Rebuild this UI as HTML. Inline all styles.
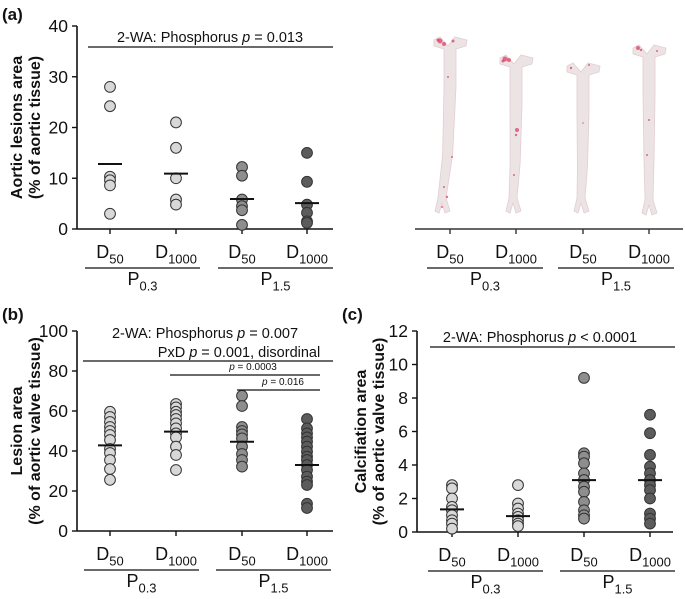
<!DOCTYPE html>
<html><head><meta charset="utf-8"><style>
html,body{margin:0;padding:0;background:#fff;}
svg{display:block;font-family:"Liberation Sans",Arial,sans-serif;}
</style></head><body>
<svg id="fig" width="685" height="599" viewBox="0 0 685 599" xmlns="http://www.w3.org/2000/svg">
<g id="aortas"></g>
</svg>
<script>
// ---- Panel (a) data ----
const catsA = ["D50","D1000","D50","D1000"];
const aP03D50 = [28, 24.2, 10.3, 9.6, 8.6, 3];
const aP03D1000 = [21, 16, 10, 5.8, 4.8];
const aP15D50 = [12.2, 10.5, 5.8, 4.5, 3.7, 0.8];
const aP15D1000 = [15, 9.3, 4.8, 3.2, 1.5, 1.2];
const aMeans = [12.8, 10.9, 5.9, 5.1];
const aTicks = [0, 10, 20, 30, 40];
// ---- Panel (b) data ----
const bP03D50 = [59.6, 57, 54.5, 52, 50, 48, 45.5, 41, 39, 35.5, 31, 25.6];
const bP03D1000 = [63.5, 61.8, 59.6, 58, 56, 53.8, 51.3, 48.8, 46.8, 42.2, 38, 30.5];
const bP15D50 = [67.6, 62.5, 52, 50, 48.3, 46.3, 42.2, 38.5, 35.5, 32.2];
const bP15D1000 = [56, 51.3, 48.8, 46.8, 44.7, 42.2, 39.7, 37.2, 35.5, 33, 30.5, 27.2, 24.7, 23, 13.6, 11.5];
const bMeans = [42.8, 49.7, 44.6, 33];
const bTicks = [0, 20, 40, 60, 80, 100];
// ---- Panel (c) data ----
const cP03D50 = [2.8, 2.6, 2.0, 1.5, 1.3, 1.0, 0.7, 0.5, 0.2];
const cP03D1000 = [2.8, 1.7, 1.4, 1.1, 0.9, 0.7, 0.5, 0.35];
const cP15D50 = [9.2, 4.7, 4.5, 4.1, 3.5, 3.1, 2.7, 2.4, 1.8, 1.3, 1.0, 0.8];
const cP15D1000 = [7.0, 5.9, 4.6, 3.9, 3.5, 3.1, 2.8, 2.5, 2.0, 1.1, 0.8, 0.5];
const cMeans = [1.35, 0.95, 3.1, 3.1];
const cTicks = [0, 2, 4, 6, 8, 10, 12];

const NS = "http://www.w3.org/2000/svg";
const svg = document.getElementById("fig");
const fills = ["#d8d8d8", "#d8d8d8", "#8e8e8e", "#5c5c5c"];
function el(tag, attrs, parent) {
  const e = document.createElementNS(NS, tag);
  for (const k in attrs) e.setAttribute(k, attrs[k]);
  (parent || svg).appendChild(e);
  return e;
}
function sub(parent, x, y, main, s, size, anchor) {
  const t = el("text", {x: x, y: y, "font-size": size, "text-anchor": anchor || "middle", fill: "#111"}, parent);
  t.appendChild(document.createTextNode(main));
  const ts = document.createElementNS(NS, "tspan");
  ts.setAttribute("font-size", size * 0.72);
  ts.setAttribute("dy", size * 0.3);
  ts.textContent = s;
  t.appendChild(ts);
  return t;
}
function xLabels(g, xs, yD, groupY, yP, l1, l2) {
  const subs = ["50", "1000", "50", "1000"];
  xs.forEach((x, i) => {
    const t = sub(g, x, yD, "D", subs[i], 18);
    
    
  });
  const gl1 = el("line", {x1: l1[0], x2: l1[1], y1: groupY, y2: groupY, stroke: "#111", "stroke-width": 1.3}, g);
  
  
  const gl2 = el("line", {x1: l2[0], x2: l2[1], y1: groupY, y2: groupY, stroke: "#111", "stroke-width": 1.3}, g);
  
  
  const p1 = sub(g, (l1[0] + l1[1]) / 2, yP, "P", "0.3", 18);
  
  
  const p2 = sub(g, (l2[0] + l2[1]) / 2, yP, "P", "1.5", 18);
  
  
}
function panel(o) {
  const g = el("g", {});
  
  
  const y = v => o.y0 - (v - o.min) / (o.max - o.min) * (o.y0 - o.y1);
  const ya = el("line", {x1: o.ax, x2: o.ax, y1: o.y1, y2: o.y0, stroke: "#111", "stroke-width": 1.6}, g);
  
  
  const xa = el("line", {x1: o.ax, x2: o.axEnd, y1: o.y0, y2: o.y0, stroke: "#111", "stroke-width": 1.6}, g);
  
  
  o.ticks.forEach(t => {
    const tl = el("line", {x1: o.ax - 5, x2: o.ax, y1: y(t), y2: y(t), stroke: "#111", "stroke-width": 1.4}, g);
    
    
    const tt = el("text", {x: o.ax - 9, y: y(t) + 6, "font-size": 17.5, "text-anchor": "end", fill: "#111"}, g);
    tt.textContent = t;
    
    
  });
  o.xs.forEach(x => {
    const tk = el("line", {x1: x, x2: x, y1: o.y0, y2: o.y0 + 5, stroke: "#111", "stroke-width": 1.4}, g);
    
    
  });
  const tx = o.titleX, ty = (o.y0 + o.y1) / 2;
  const t1 = el("text", {x: 0, y: 0, "font-size": 16, "font-weight": "bold", "text-anchor": "middle", fill: "#111", transform: `translate(${tx},${ty}) rotate(-90)`}, g);
  t1.textContent = o.title1;
  
  
  const t2 = el("text", {x: 0, y: 0, "font-size": 16, "font-weight": "bold", "text-anchor": "middle", fill: "#111", transform: `translate(${tx + 18},${ty}) rotate(-90)`}, g);
  t2.textContent = o.title2;
  
  
  o.series.forEach((s, i) => {
    s.forEach(v => {
      const c = el("circle", {cx: o.xs[i], cy: y(v), r: 5.4, fill: fills[i], stroke: "#333", "stroke-width": 1}, g);
      
      
    });
    const m = el("line", {x1: o.xs[i] - 12, x2: o.xs[i] + 12, y1: y(o.means[i]), y2: y(o.means[i]), stroke: "#111", "stroke-width": 2}, g);
    
    
  });
  xLabels(g, o.xs, o.y0 + 29, o.y0 + 39, o.y0 + 56, o.l1, o.l2);
  return {g, y};
}
function txt(x, y, size, html, name, anchor, g) {
  const t = el("text", {x, y, "font-size": size, "text-anchor": anchor || "middle", fill: "#111"}, g);
  t.innerHTML = html;
  
  
  return t;
}
function line(x1, x2, yy, name, g) {
  const l = el("line", {x1, x2, y1: yy, y2: yy, stroke: "#111", "stroke-width": 1.3}, g);
  
  
}

const A = panel({name: "panel-a-chart", ax: 77, axEnd: 333, y0: 229, y1: 26, min: 0, max: 40, ticks: aTicks,
  xs: [110, 176, 242, 307], series: [aP03D50, aP03D1000, aP15D50, aP15D1000], means: aMeans,
  titleX: 22, title1: "Aortic lesions area", title2: "(% of aortic tissue)", l1: [85, 200], l2: [218, 333]});
line(88, 333, 47, "significance-line", A.g);
txt(210, 42, 14.5, '2-WA: Phosphorus <tspan font-style="italic">p</tspan> = 0.013', "significance-label", "middle", A.g);
txt(2, 20, 17, "(a)", "panel-label-a", "start").setAttribute("font-weight", "bold");

const B = panel({name: "panel-b-chart", ax: 77, axEnd: 333, y0: 531, y1: 331, min: 0, max: 100, ticks: bTicks,
  xs: [110, 176, 242, 307], series: [bP03D50, bP03D1000, bP15D50, bP15D1000], means: bMeans,
  titleX: 22, title1: "Lesion area", title2: "(% of aortic valve tissue)", l1: [84, 199], l2: [216, 331]});
line(83, 333, 361, "significance-line", B.g);
txt(205, 338, 14.5, '2-WA: Phosphorus <tspan font-style="italic">p</tspan> = 0.007', "significance-label", "middle", B.g);
txt(239, 357, 14.5, 'PxD <tspan font-style="italic">p</tspan> = 0.001, disordinal', "interaction-label", "middle", B.g);
line(170, 320, 375, "comparison-line-1", B.g);
txt(253, 370, 10, '<tspan font-style="italic">p</tspan> = 0.0003', "comparison-label-1", "middle", B.g);
line(237, 320, 390, "comparison-line-2", B.g);
txt(283, 385, 10, '<tspan font-style="italic">p</tspan>  = 0.016', "comparison-label-2", "middle", B.g);
txt(2, 320, 17, "(b)", "panel-label-b", "start").setAttribute("font-weight", "bold");

const C = panel({name: "panel-c-chart", ax: 417, axEnd: 673, y0: 532, y1: 331, min: 0, max: 12, ticks: cTicks,
  xs: [452, 518, 584, 650], series: [cP03D50, cP03D1000, cP15D50, cP15D1000], means: cMeans,
  titleX: 366, title1: "Calcifiation area", title2: "(% of aortic valve tissue)", l1: [428, 543], l2: [560, 675]});
line(430, 675, 347, "significance-line", C.g);
txt(540, 342, 14.5, '2-WA: Phosphorus <tspan font-style="italic">p</tspan> &lt; 0.0001', "significance-label", "middle", C.g);
txt(342, 320, 17, "(c)", "panel-label-c", "start").setAttribute("font-weight", "bold");

const img = document.getElementById("aortas");
const ia = el("line", {x1: 415, x2: 683, y1: 229, y2: 229, stroke: "#333", "stroke-width": 1.6}, img);


const ixs = [450, 516, 583, 649];
ixs.forEach(x => {
  const tk = el("line", {x1: x, x2: x, y1: 229, y2: 234, stroke: "#333", "stroke-width": 1.4}, img);
  
  
});
xLabels(img, ixs, 258, 268, 285, [427, 543], [558, 674]);
const tops = [37, 55, 63, 45];
const bots = [213, 213, 213, 215];
const skew = [-8, -3, -2, 0];
ixs.forEach((x, i) => {
  const t = tops[i], b = bots[i], s = skew[i];
  const d = `M${x-16},${t+3} L${x-10},${t} L${x-2},${t+9} L${x+5},${t} L${x+17},${t+3} L${x+16},${t+9} L${x+6},${t+12} L${x+6},${t+50}
   L${x+5+s*0.3},${(t+b)/2+30} L${x+4+s},${b-15} L${x+8+s},${b-2} L${x+3+s},${b} L${x+s},${b-10} L${x-3+s},${b} L${x-7+s},${b-2} L${x-4+s},${b-15}
   L${x-5+s*0.3},${(t+b)/2+30} L${x-6},${t+50} L${x-6},${t+12} L${x-16},${t+9} Z`;
  const p = el("path", {d, fill: "#ece3e5", stroke: "#e2cdd2", "stroke-width": 0.8}, img);
  
  
  const spots = i === 0 ? [[-10,4,2.5],[-6,7,2],[-12,3,1.5],[3,4,1.5],[-2,40,1],[2,120,1],[-3,160,1.2],[-6,150,1],[-8,170,1]] :
                i === 1 ? [[-11,4,2.5],[-7,5,2],[-13,6,1.5],[1,75,2],[0,80,1.2],[-2,120,1]] :
                i === 2 ? [[-12,5,1.2],[6,2,1],[0,60,0.8]] : [[-11,3,2],[-8,5,1.2],[8,6,1],[0,75,1],[-2,110,1]];
  spots.forEach(sp => {
    const c = el("circle", {cx: x + sp[0], cy: t + sp[1], r: sp[2], fill: "#d8365e", opacity: 0.7}, img);
    
    
  });
});
</script>
</body></html>
